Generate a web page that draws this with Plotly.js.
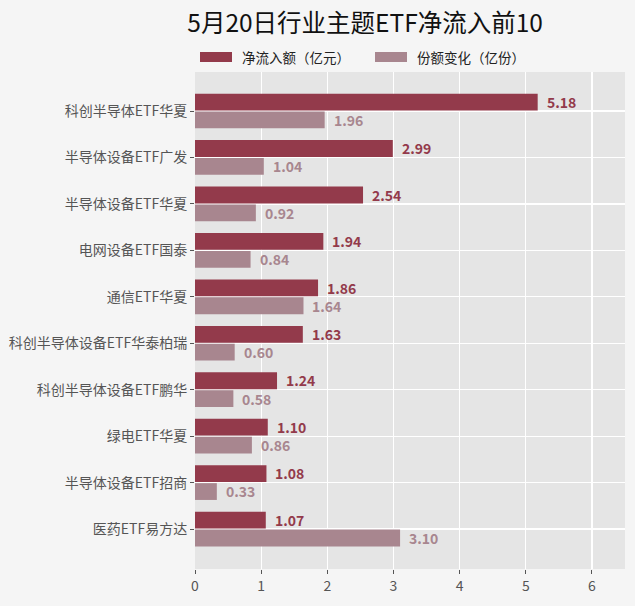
<!DOCTYPE html>
<html><head><meta charset="utf-8">
<script src="https://cdn.plot.ly/plotly-3.0.1.min.js"></script>
<style>html,body{margin:0;padding:0;background:#f5f5f5;}</style>
</head><body>
<div id="chart" style="width:635px;height:606px;"></div>
<script>
const categories = ["科创半导体ETF华夏","半导体设备ETF广发","半导体设备ETF华夏","电网设备ETF国泰","通信ETF华夏","科创半导体设备ETF华泰柏瑞","科创半导体设备ETF鹏华","绿电ETF华夏","半导体设备ETF招商","医药ETF易方达"];
const netInflow = [5.18, 2.99, 2.54, 1.94, 1.86, 1.63, 1.24, 1.10, 1.08, 1.07];
const shareChange = [1.96, 1.04, 0.92, 0.84, 1.64, 0.60, 0.58, 0.86, 0.33, 3.10];
const seriesNames = ["净流入额（亿元）", "份额变化（亿份）"];
const xTicks = [0, 1, 2, 3, 4, 5, 6];

const font = "'Noto Sans CJK SC', 'Noto Sans', sans-serif";
const dark = "#933a4b", light = "#a8868f";
const colors = [dark, light];
const series = [netInflow, shareChange];

const traces = series.map((vals, i) => ({
  type:"bar", orientation:"h", name:seriesNames[i], y:categories, x:vals,
  marker:{color:colors[i]}, showlegend:false
}));

// value labels as annotations, offset from bar end
const annotations = [];
const offs = [-0.2, 0.19];
series.forEach((vals, i) => {
  vals.forEach((v, j) => {
    annotations.push({x:v, y:j + offs[i], xref:"x", yref:"y", text:"<b>"+v.toFixed(2)+"</b>",
      showarrow:false, xanchor:"left", yanchor:"middle", xshift:7,
      font:{size:14, color:colors[i], family:font}});
  });
});
// custom legend
const shapes = [];
const legX = [200, 375];
seriesNames.forEach((n, i) => {
  shapes.push({type:"rect", xref:"paper", yref:"paper",
    x0:(legX[i]-195)/430, x1:(legX[i]+32-195)/430,
    y0:(569-62)/497, y1:(569-52)/497, fillcolor:colors[i], line:{width:0}});
  annotations.push({xref:"paper", yref:"paper", x:(legX[i]+40-195)/430, y:(569-57)/497,
    text:n, showarrow:false, xanchor:"left", yanchor:"middle",
    font:{size:13.5, color:"#222", family:font}});
});

const layout = {
  width:635, height:606,
  paper_bgcolor:"#f5f5f5", plot_bgcolor:"#e5e5e5",
  font:{family:font, color:"#555", size:14},
  margin:{l:195, r:10, t:72, b:37},
  title:{text:"5月20日行业主题ETF净流入前10", x:0.575, xanchor:"center", xref:"container",
         y:0.962, yanchor:"middle", yref:"container",
         font:{size:24.5, color:"#111", family:font}},
  barmode:"group", bargap:0.23, bargroupgap:0.06,
  showlegend:false,
  shapes:shapes, annotations:annotations,
  xaxis:{range:[0,6.5], tickvals:xTicks, ticktext:xTicks.map(String), showgrid:true, gridcolor:"#ffffff", gridwidth:1.2,
         zeroline:false, ticks:"outside", ticklen:4, tickcolor:"#555", tickfont:{size:14, color:"#555"}, fixedrange:true},
  yaxis:{type:"category", range:[9.86,-0.84], showgrid:true, gridcolor:"#ffffff", gridwidth:1.2,
         ticks:"outside", ticklen:4, tickcolor:"#555", tickfont:{size:14, color:"#555"}, automargin:false}
};

Plotly.newPlot("chart", traces, layout, {displayModeBar:false, staticPlot:true});
</script>
</body></html>
